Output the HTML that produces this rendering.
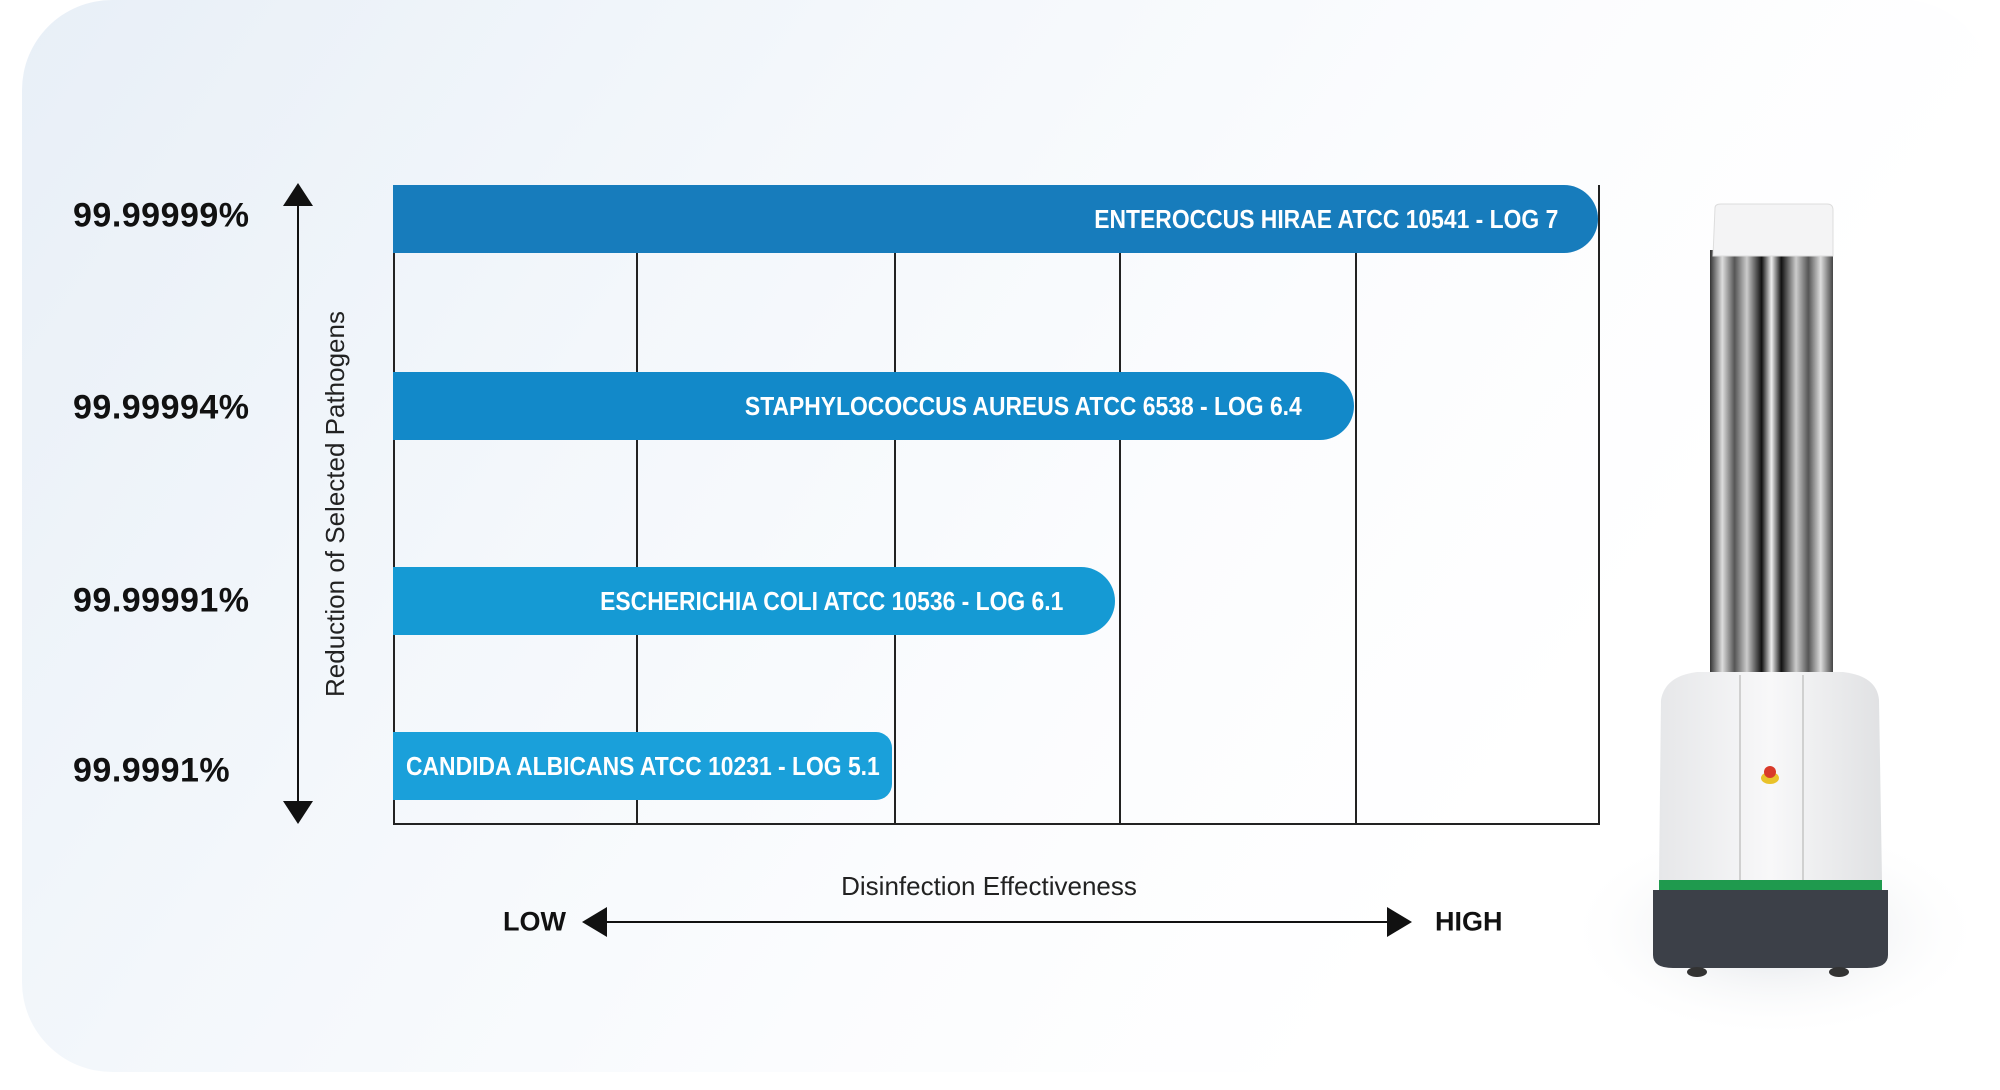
<!DOCTYPE html>
<html><head><meta charset="utf-8"><style>
html,body{margin:0;padding:0;width:2000px;height:1090px;overflow:hidden;background:#fff}
.card{position:absolute;left:22px;top:0;width:1970px;height:1072px;border-radius:90px;background:linear-gradient(125deg,#e8eff7 0%,#f3f7fb 30%,#fbfcfe 55%,#fff 75%)}
.abs{position:absolute}
.bar{position:absolute;left:393px;height:68px;border-radius:0 34px 34px 0;color:#fff;font-family:"Liberation Sans",sans-serif;font-weight:bold;font-size:26px;line-height:68px;box-sizing:border-box;white-space:nowrap}
.bar span{display:inline-block;transform:scaleX(0.88);transform-origin:right center}
.grid{position:absolute;top:185px;height:639px;width:2px;background:#222}
.yl{position:absolute;left:73px;font-family:"Liberation Sans",sans-serif;font-weight:bold;font-size:34px;color:#111;transform:translateY(-50%);letter-spacing:0.5px}
.lh{position:absolute;font-family:"Liberation Sans",sans-serif;font-weight:bold;font-size:27px;color:#111;transform:translateY(-50%)}
</style></head><body>
<div class="card"></div>
<div class="grid" style="left:393px"></div>
<div class="grid" style="left:636px"></div>
<div class="grid" style="left:894px"></div>
<div class="grid" style="left:1119px"></div>
<div class="grid" style="left:1355px"></div>
<div class="grid" style="left:1598px"></div>
<div class="abs" style="left:393px;top:823px;width:1207px;height:2px;background:#222"></div>
<div class="bar" style="top:185px;width:1205px;background:#177cbc;text-align:right;padding-right:40px"><span>ENTEROCCUS HIRAE ATCC 10541 - LOG 7</span></div>
<div class="bar" style="top:372px;width:961px;background:#1289c9;text-align:right;padding-right:52px"><span>STAPHYLOCOCCUS AUREUS ATCC 6538 - LOG 6.4</span></div>
<div class="bar" style="top:567px;width:722px;background:#159ad4;text-align:right;padding-right:52px"><span>ESCHERICHIA COLI ATCC 10536 - LOG 6.1</span></div>
<div class="bar" style="top:732px;width:499px;background:#1aa0da;border-radius:0 16px 16px 0;padding-left:13px"><span style="transform-origin:left center">CANDIDA ALBICANS ATCC 10231 - LOG 5.1</span></div>
<div class="yl" style="top:216px">99.99999%</div>
<div class="yl" style="top:408px">99.99994%</div>
<div class="yl" style="top:601px">99.99991%</div>
<div class="yl" style="top:771px">99.9991%</div>
<svg class="abs" style="left:0;top:0" width="2000" height="1090">
<line x1="298" y1="200" x2="298" y2="808" stroke="#111" stroke-width="2"/>
<polygon points="283,206 313,206 298,183" fill="#111"/>
<polygon points="283,801 313,801 298,824" fill="#111"/>
<line x1="600" y1="922" x2="1395" y2="922" stroke="#111" stroke-width="2"/>
<polygon points="607,907 607,937 582,922" fill="#111"/>
<polygon points="1387,907 1387,937 1412,922" fill="#111"/>
<text x="335" y="504" transform="rotate(-90 335 504)" text-anchor="middle" dominant-baseline="central" font-family="Liberation Sans, sans-serif" font-size="26" fill="#222">Reduction of Selected Pathogens</text>
<text x="989" y="895" text-anchor="middle" font-family="Liberation Sans, sans-serif" font-size="26" fill="#222">Disinfection Effectiveness</text>
<defs>
<radialGradient id="sh" cx="50%" cy="50%" r="50%"><stop offset="0" stop-color="#d9dde2"/><stop offset="1" stop-color="#fff" stop-opacity="0"/></radialGradient>
<linearGradient id="tb" x1="0" x2="1"><stop offset="0" stop-color="#333"/><stop offset=".1" stop-color="#ddd"/><stop offset=".2" stop-color="#555"/><stop offset=".3" stop-color="#ccc"/><stop offset=".42" stop-color="#111"/><stop offset=".5" stop-color="#eee"/><stop offset=".58" stop-color="#111"/><stop offset=".7" stop-color="#ccc"/><stop offset=".8" stop-color="#555"/><stop offset=".9" stop-color="#ddd"/><stop offset="1" stop-color="#444"/></linearGradient>
<linearGradient id="wb" x1="0" x2="1"><stop offset="0" stop-color="#e6e7e9"/><stop offset=".5" stop-color="#f8f8f9"/><stop offset="1" stop-color="#e0e1e3"/></linearGradient>
</defs>
<ellipse cx="1775" cy="930" rx="210" ry="110" fill="url(#sh)"/>
<rect x="1710" y="250" width="123" height="440" fill="url(#tb)"/>
<path d="M1715 208 Q1715 204 1721 204 L1827 204 Q1833 204 1833 210 L1833 256 L1713 256 Z" fill="#f4f4f5" stroke="#ddd"/>
<path d="M1697 672 L1843 672 Q1877 676 1879 700 L1882 880 L1659 880 L1661 700 Q1665 676 1697 672 Z" fill="url(#wb)"/>
<line x1="1740" y1="675" x2="1740" y2="880" stroke="#d0d0d0" stroke-width="2"/>
<line x1="1803" y1="675" x2="1803" y2="880" stroke="#d0d0d0" stroke-width="2"/>
<ellipse cx="1770" cy="778" rx="9" ry="6" fill="#e9c22a"/><circle cx="1770" cy="772" r="6" fill="#d93a2a"/>
<rect x="1659" y="880" width="223" height="10" fill="#1f9a4e"/>
<path d="M1653 890 L1888 890 L1888 955 Q1888 968 1867 968 L1673 968 Q1653 968 1653 955 Z" fill="#3c4048"/>
<ellipse cx="1697" cy="972" rx="10" ry="5" fill="#333"/><ellipse cx="1839" cy="972" rx="10" ry="5" fill="#333"/>
</svg>
<div class="lh" style="left:503px;top:922px">LOW</div>
<div class="lh" style="left:1435px;top:922px">HIGH</div>
</body></html>
